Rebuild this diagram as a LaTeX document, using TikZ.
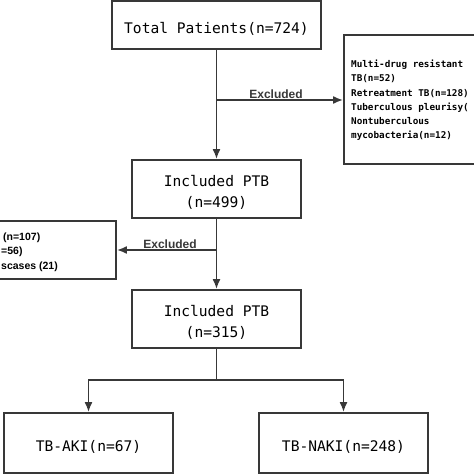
\documentclass[tikz,border=0pt]{standalone}
\usepackage{fontspec}
\setmonofont{DejaVu Sans Mono}
\setsansfont{Liberation Sans}
\usepackage{tikz}
\usetikzlibrary{arrows.meta}
\definecolor{linegray}{HTML}{383838}
\newcommand{\boxtext}[1]{\raisebox{-4pt}[\height][\depth]{\begin{tabular}{@{}c@{}}#1\end{tabular}}}

\begin{document}
\begin{tikzpicture}[x=1pt, y=-1pt,
	box/.style={draw=linegray, line width=1.8pt, rectangle, inner sep=0pt,
		minimum width=169pt, minimum height=58pt,
		font=\ttfamily\fontsize{14.6}{21}\selectfont},
	sidebox/.style={draw=linegray, line width=1.8pt, rectangle, inner sep=0pt},
	flow/.style={draw=linegray, line width=1.8pt, -{Latex[length=10pt,width=8pt]}},
	plain/.style={draw=linegray, line width=1.8pt},
	exlabel/.style={font=\sffamily\bfseries\fontsize{12}{14}\selectfont, text=linegray, inner sep=0pt}]
				\useasboundingbox (0,0) rectangle (474,474);
				%Cajas centrales
				\node[box, minimum width=209pt, minimum height=48pt] (total) at (216.5,25) {\boxtext{Total Patients(n=724)}};
				\node[box] (inc1) at (216.5,189) {\boxtext{Included PTB\\(n=499)}};
				\node[box] (inc2) at (216.5,319) {\boxtext{Included PTB\\(n=315)}};
				\node[box, minimum height=60pt] (aki) at (88.5,443) {\boxtext{TB-AKI(n=67)}};
				\node[box, minimum height=60pt] (naki) at (343.5,443) {\boxtext{TB-NAKI(n=248)}};
				%Cajas de excluidos
				\node[sidebox, minimum width=156pt, minimum height=129pt] (excl1) at (422,99.5) {};
				\node[anchor=north west, inner sep=0pt, align=left,
					font=\ttfamily\bfseries\fontsize{9.3}{14.2}\selectfont] (excltxt1) at (351,60)
					{Multi-drug resistant\\TB(n=52)\\Retreatment TB(n=128)\\Tuberculous pleurisy(\\Nontuberculous\\mycobacteria(n=12)};
				\node[sidebox, minimum width=156pt, minimum height=58pt] (excl2) at (38,250) {};
				\node[anchor=west, inner sep=0pt, align=left,
					font=\sffamily\bfseries\fontsize{10.5}{14.5}\selectfont] (excltxt2) at (1,252)
					{\hspace{2pt}(n=107)\\=56)\\scases (21)};
				%Uniones
				\coordinate (j1) at (216.5,100);
				\coordinate (j2) at (216.5,250);
				\coordinate (j3) at (216.5,380);
				%Flechas
				\draw[flow] (total) -- (inc1);
				\draw[flow] (j1) -- (j1 -| excl1.west);
				\node[exlabel, anchor=south] (ex1) at (276,99) {Excluded};
				\draw[flow] (inc1) -- (inc2);
				\draw[flow] (j2) -- (j2 -| excl2.east);
				\node[exlabel, anchor=south] (ex2) at (170,249) {Excluded};
				\draw[plain] (inc2) -- (j3);
				\draw[flow] (j3) -| (aki);
				\draw[flow] (j3) -| (naki);
\end{tikzpicture}
\end{document}
